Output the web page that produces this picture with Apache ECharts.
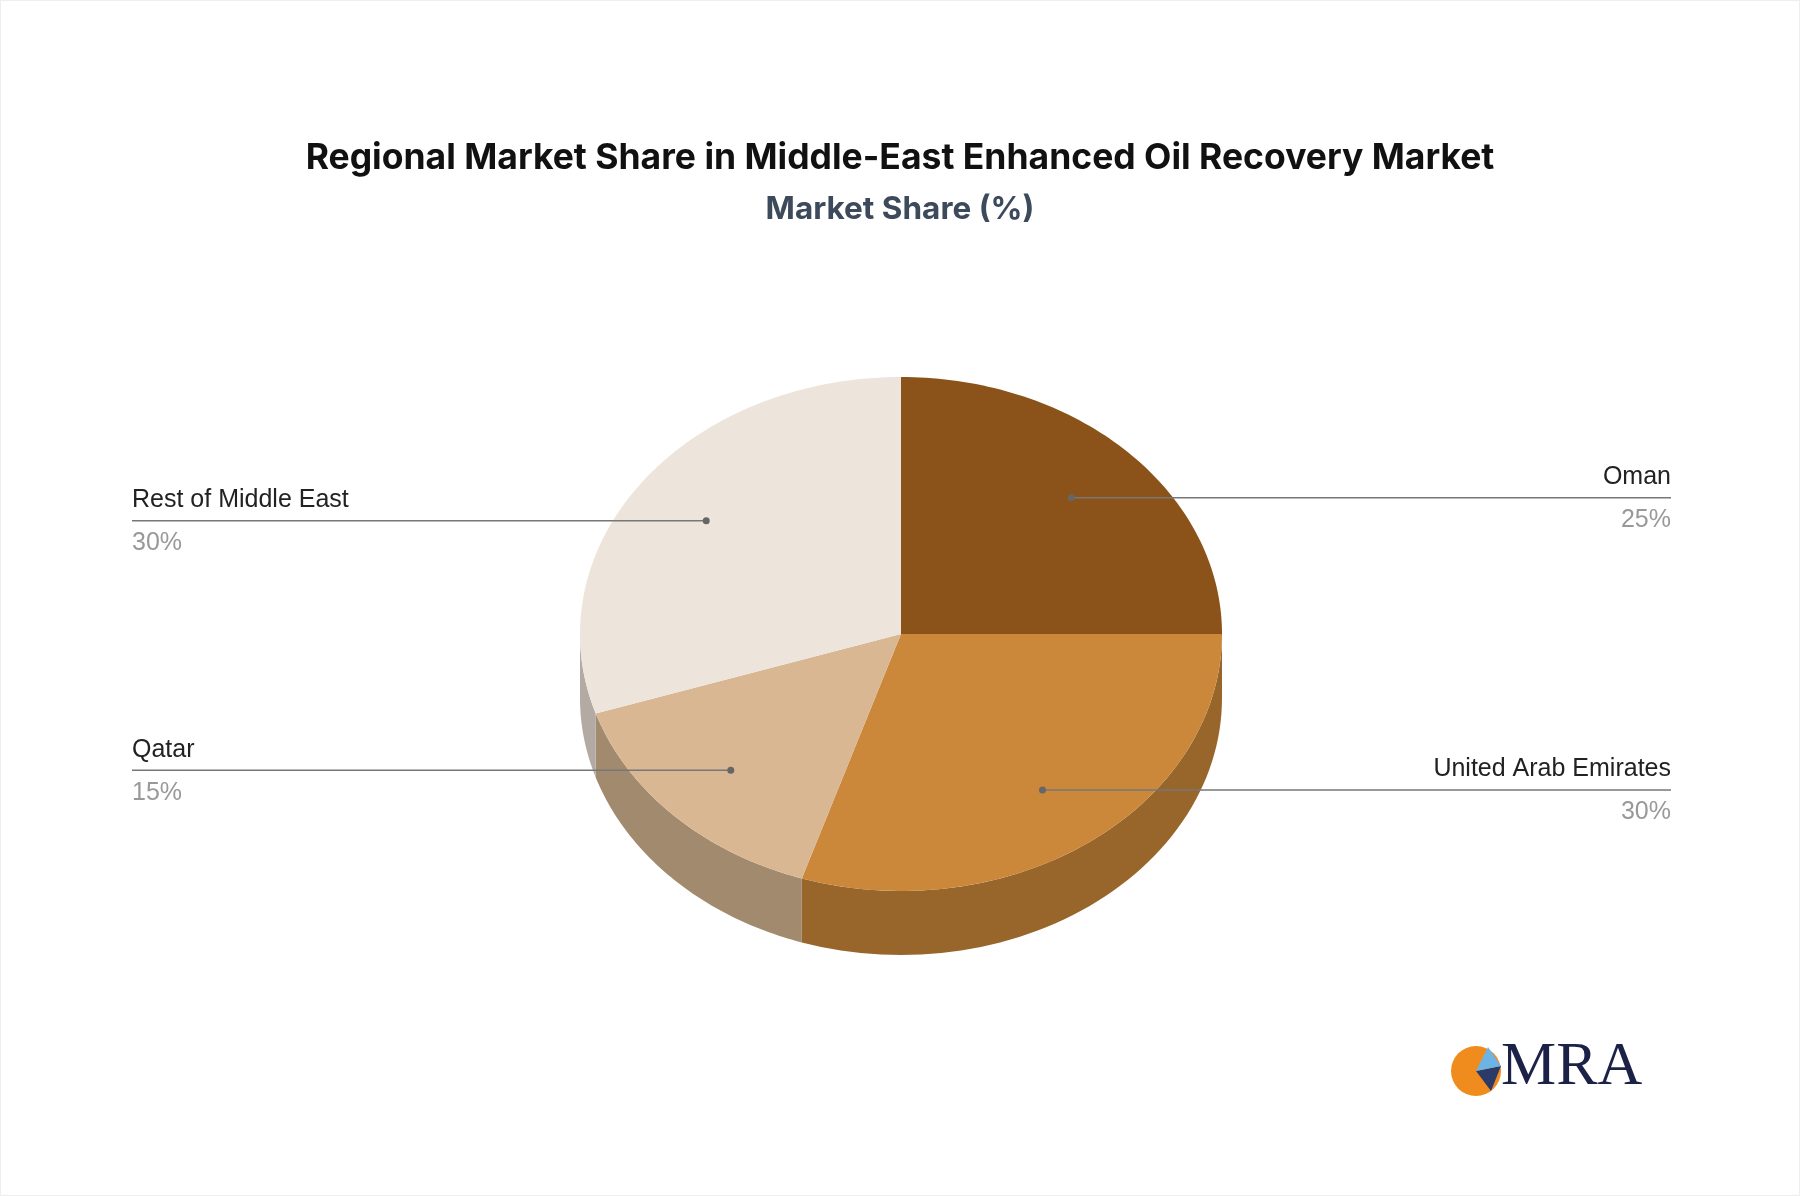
<!DOCTYPE html>
<html>
<head>
<meta charset="utf-8">
<script src="https://cdn.jsdelivr.net/npm/echarts@6/dist/echarts.min.js"></script>
<style>
html,body{margin:0;padding:0;background:#fff;}
#main{width:1800px;height:1196px;box-sizing:border-box;border:1px solid #eee;}
</style>
</head>
<body>
<div id="main"></div>
<script>
// regions clockwise from 12 o'clock
var regions = ['Oman', 'United Arab Emirates', 'Qatar', 'Rest of Middle East'];
var shares = [25, 30, 15, 30];
var topColors = ['#8B5319', '#CB883B', '#D8B792', '#EDE4DB'];
var sideColors = ['#6E4214', '#98662B', '#A28A6E', '#B3ABA3'];

window.onload = function () {
    var chart = echarts.init(document.getElementById('main'));
    var total = shares.reduce(function (a, b) { return a + b; }, 0);
    var cx = 900, cy = 633, rx = 321, ry = 257, depth = 64;

    function pt(t, dy) {
        return [cx + rx * Math.sin(t), cy - ry * Math.cos(t) + (dy || 0)];
    }

    function renderItem(params, api) {
        var i = params.dataIndex;
        var before = 0;
        for (var k = 0; k < i; k++) before += shares[k];
        var a0 = before / total * Math.PI * 2;
        var a1 = (before + api.value(0)) / total * Math.PI * 2;
        var children = [];

        // side wall, only the front half (pi/2 .. 3pi/2)
        var s0 = Math.max(a0, Math.PI / 2), s1 = Math.min(a1, Math.PI * 1.5);
        if (s1 > s0) {
            var wall = [], n = 60, j;
            for (j = 0; j <= n; j++) wall.push(pt(s0 + (s1 - s0) * j / n));
            for (j = n; j >= 0; j--) wall.push(pt(s0 + (s1 - s0) * j / n, depth));
            children.push({ type: 'polygon', shape: { points: wall }, style: { fill: sideColors[i] }, z2: 1 });
        }

        // top face
        var top = [[cx, cy]];
        for (var m = 0; m <= 80; m++) top.push(pt(a0 + (a1 - a0) * m / 80));
        children.push({ type: 'polygon', shape: { points: top }, style: { fill: topColors[i] }, z2: 2 });

        // label with leader line
        var mid = (a0 + a1) / 2;
        var dot = [cx + rx * 0.75 * Math.sin(mid), cy - ry * 0.75 * Math.cos(mid)];
        var right = Math.sin(mid) > 0;
        var endX = right ? 1670 : 131;
        children.push({ type: 'line', shape: { x1: dot[0], y1: dot[1], x2: endX, y2: dot[1] },
            style: { stroke: '#777', lineWidth: 1.5 }, z2: 5 });
        children.push({ type: 'circle', shape: { cx: dot[0], cy: dot[1], r: 3.5 }, style: { fill: '#666' }, z2: 6 });
        children.push({ type: 'text', x: endX, y: dot[1] - 8, z2: 6,
            style: { text: api.value(1), fill: '#222', font: '25px "Liberation Sans"', align: right ? 'right' : 'left', verticalAlign: 'bottom' } });
        children.push({ type: 'text', x: endX, y: dot[1] + 10, z2: 6,
            style: { text: api.value(0) + '%', fill: '#999', font: '25px "Liberation Sans"', align: right ? 'right' : 'left', verticalAlign: 'top' } });

        return { type: 'group', children: children };
    }

    var data = regions.map(function (r, i) { return [shares[i], r]; });

    var option = {
        backgroundColor: '#fff',
        title: {
            text: 'Regional Market Share in Middle-East Enhanced Oil Recovery Market',
            subtext: 'Market Share (%)',
            left: 'center',
            top: 134,
            itemGap: 18,
            textStyle: { fontFamily: 'Inter', fontSize: 35.5, fontWeight: 'bold', color: '#111' },
            subtextStyle: { fontFamily: 'Inter', fontSize: 31.5, fontWeight: 'bold', color: '#3d4a5c' }
        },
        series: [{
            type: 'custom',
            coordinateSystem: 'none',
            renderItem: renderItem,
            data: data
        }],
        graphic: [
            { type: 'circle', shape: { cx: 1475, cy: 1070, r: 25 }, style: { fill: '#F08C1E' } },
            { type: 'polygon', shape: { points: [[1475, 1070], [1500, 1065], [1490, 1090]] }, style: { fill: '#2B3A67' } },
            { type: 'polygon', shape: { points: [[1475, 1070], [1487, 1046], [1500, 1065]] }, style: { fill: '#6CB4E4' } },
            { type: 'text', left: 1500, top: 1036, style: { text: 'MRA', font: '62px "Liberation Serif"', fill: '#1B2147' } }
        ]
    };

    chart.setOption(option);
};
</script>
</body>
</html>
